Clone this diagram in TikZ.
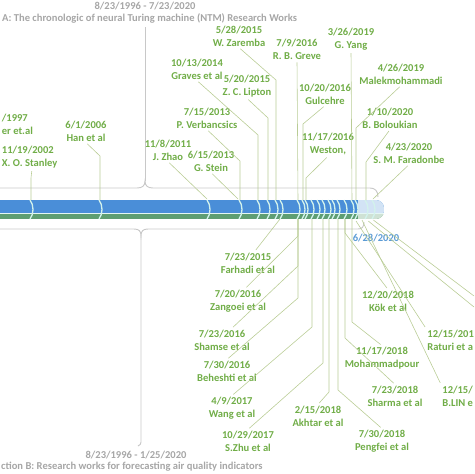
\documentclass[tikz,border=0pt]{standalone}
\usepackage{fontspec}
\setmainfont{Carlito}
\definecolor{lblgreen}{HTML}{70AD47}
\definecolor{leadgreen}{HTML}{B9CC95}
\definecolor{barblue}{HTML}{4A8ED8}
\definecolor{bargreen}{HTML}{5E9E72}
\definecolor{sepcyan}{HTML}{D2F2EC}
\definecolor{bracegray}{HTML}{C8C8C8}
\definecolor{titlegray}{HTML}{A6A6A6}
\definecolor{datblue}{HTML}{5B9BD5}
\tikzset{
  lbl/.style={font=\fontsize{9}{11}\selectfont\bfseries, text=lblgreen, align=center, inner sep=1pt},
  lead/.style={draw=leadgreen, line width=0.5pt, shorten <=1.5pt},
  sepline/.style={draw=sepcyan, line width=1.1pt},
  bracket/.style={draw=bracegray, line width=0.8pt},
  ttl/.style={font=\fontsize{9}{11}\selectfont\bfseries, text=titlegray, inner sep=0pt},
}
\begin{document}
\begin{tikzpicture}[x=0.03cm, y=-0.03cm]
  \useasboundingbox (0,0) rectangle (474,474);
  \clip (0,0) rectangle (474,474);
  % Titles
  \node[ttl] (rangeA) at (145,6) {8/23/1996 - 7/23/2020};
  \node[ttl, anchor=west] (titleA) at (2,18) {A: The chronologic of neural Turing machine (NTM) Research Works};
  \node[ttl] (rangeB) at (136,455) {8/23/1996 - 1/25/2020};
  \node[ttl, anchor=west] (titleB) at (1,467) {ction B: Research works for forecasting air quality indicators};
  % Brackets
  \coordinate (braceA) at (145,181);
  \coordinate (braceB) at (141,236);
  \draw[bracket] (-5,188) -- (137,188) .. controls (142,188) and (145,186) .. (braceA)
    .. controls (145,186) and (148,188) .. (153,188) -- (370,188) .. controls (375,188) and (378,191) .. (378,197);
  \draw[bracket] (braceA) -- (145,27);
  \draw[bracket] (-5,229) -- (134,229) .. controls (139,229) and (141,231) .. (braceB)
    .. controls (141,231) and (143,229) .. (148,229) -- (358,229) .. controls (362,229) and (364,227) .. (364,222);
  \draw[bracket] (braceB) -- (141,442) .. controls (141,444) and (140,445) .. (138,446);
  % Timeline bar
  \begin{scope}
    \clip[rounded corners=7] (-10,200) rectangle (384,219);
    \fill[barblue] (-10,200) rectangle (384,212.5);
    \fill[bargreen] (-10,213.5) rectangle (384,219);
    \fill[sepcyan!60!white] (-10,212.5) rectangle (384,213.5);
    \fill[barblue!25!white] (358,200) rectangle (384,212.5);
    \fill[bargreen!30!white] (358,213.5) rectangle (384,219);
  \end{scope}
  \foreach \s in {31,100,208,240,258,268,276,281,298,303,306,312,318,323,329,333,338,345,352,356,366,373}
    \draw[sepline] (\s-1,200) .. controls (\s+3,205) and (\s+3,214) .. (\s-1,219);
  % Section A labels
  \node[lbl, anchor=west, align=left] (a97) at (0.5,124) {/1997\\er et.al};
  \node[lbl, anchor=west, align=left] (stanley) at (0.5,157) {11/19/2002\\X. O. Stanley};
  \node[lbl] (han) at (86,131) {6/1/2006\\Han et al};
  \node[lbl] (zhao) at (168,150) {11/8/2011\\J. Zhao};
  \node[lbl] (stein) at (211,161) {6/15/2013\\G. Stein};
  \node[lbl] (verb) at (207,118) {7/15/2013\\P. Verbancsics};
  \node[lbl] (graves) at (197,69) {10/13/2014\\Graves et al};
  \node[lbl] (zaremba) at (239,36) {5/28/2015\\W. Zaremba};
  \node[lbl] (lipton) at (247,86) {5/20/2015\\Z. C. Lipton};
  \node[lbl] (greve) at (297,49) {7/9/2016\\R. B. Greve};
  \node[lbl] (gulcehre) at (325,94) {10/20/2016\\Gulcehre};
  \node[lbl] (weston) at (328,144) {11/17/2016\\Weston,};
  \node[lbl] (yang) at (351,39) {3/26/2019\\G. Yang};
  \node[lbl] (malek) at (401,74) {4/26/2019\\Malekmohammadi};
  \node[lbl] (bolou) at (390,118) {1/10/2020\\B. Boloukian};
  \node[lbl] (farad) at (409,153) {4/23/2020\\S. M. Faradonbe};
  % Section A leaders
  \draw[lead] ([xshift=2pt]stanley.south) -- (31,178) -- (31,200);
  \draw[lead] (han.south) -- (100,156) -- (100,200);
  \draw[lead] (zhao.south) -- (207,199);
  \draw[lead] (stein.south) -- (238,199);
  \draw[lead] (verb.south) -- (240,161) -- (240,200);
  \draw[lead] (graves.south) -- (258,135) -- (258,200);
  \draw[lead] (zaremba.south) -- (276,80) -- (276,200);
  \draw[lead] (lipton.south) -- (268,118) -- (268,200);
  \draw[lead] (greve.south) -- (298,200);
  \draw[lead] (gulcehre.south) -- (303,124) -- (303,200);
  \draw[lead] (weston.south) -- (306,178) -- (306,200);
  \draw[lead] (yang.south) -- (352,200);
  \draw[lead] (malek.south) -- (356,128) -- (356,200);
  \draw[lead] (bolou.south) -- (366,162) -- (366,200);
  \draw[lead] (farad.south) -- (373,199);
  % Section B labels
  \node[lbl] (farhadi) at (248,263) {7/23/2015\\Farhadi et al};
  \node[lbl] (zangoei) at (238,301) {7/20/2016\\Zangoei et al};
  \node[lbl] (shamse) at (222,340) {7/23/2016\\Shamse et al};
  \node[lbl] (beheshti) at (227,371) {7/30/2016\\Beheshti et al};
  \node[lbl] (wang) at (232,408) {4/9/2017\\Wang et al};
  \node[lbl] (zhu) at (248,441) {10/29/2017\\S.Zhu et al};
  \node[lbl] (akhtar) at (318,416) {2/15/2018\\Akhtar et al};
  \node[lbl] (pengfei) at (382,441) {7/30/2018\\Pengfei et al};
  \node[lbl] (sharma) at (395,396) {7/23/2018\\Sharma et al};
  \node[lbl] (mohammad) at (382,358) {11/17/2018\\Mohammadpour};
  \node[lbl] (kok) at (388,301) {12/20/2018\\Kök et al};
  \node[lbl, anchor=west, align=left] (raturi) at (426,340) {12/15/201\\Raturi et a};
  \node[lbl, anchor=west, align=left] (blin) at (441,396) {12/15/\\B.LIN e};
  \node[lbl, text=datblue] (enddate) at (376,238) {6/28/2020};
  % Section B leaders
  \draw[lead] (farhadi.60) -- (280,219);
  \draw[lead] (zangoei.60) -- (298,236) -- (298,219);
  \draw[lead] (shamse.50) -- (298,266) -- (298,219);
  \draw[lead] (beheshti.north) -- (298,298) -- (298,219);
  \draw[lead] (wang.north) -- (312,327) -- (312,219);
  \draw[lead] (zhu.north) -- (323,363) -- (323,219);
  \draw[lead] (akhtar.north) -- (329,392) -- (329,219);
  \draw[lead] (pengfei.north) -- (338,390) -- (338,219);
  \draw[lead] (sharma.north) -- (345,338) -- (345,219);
  \draw[lead] (mohammad.north) -- (352,322) -- (352,219);
  \draw[lead] (kok.north) -- (345,233) -- (345,219);
  \draw[lead] (raturi.north west) -- (356,221);
  \draw[lead] (blin.north west) -- (362,220);
  \draw[lead] (367,220) -- (474,307);
  \draw[lead] (372,219) -- (474,296);
\end{tikzpicture}
\end{document}
